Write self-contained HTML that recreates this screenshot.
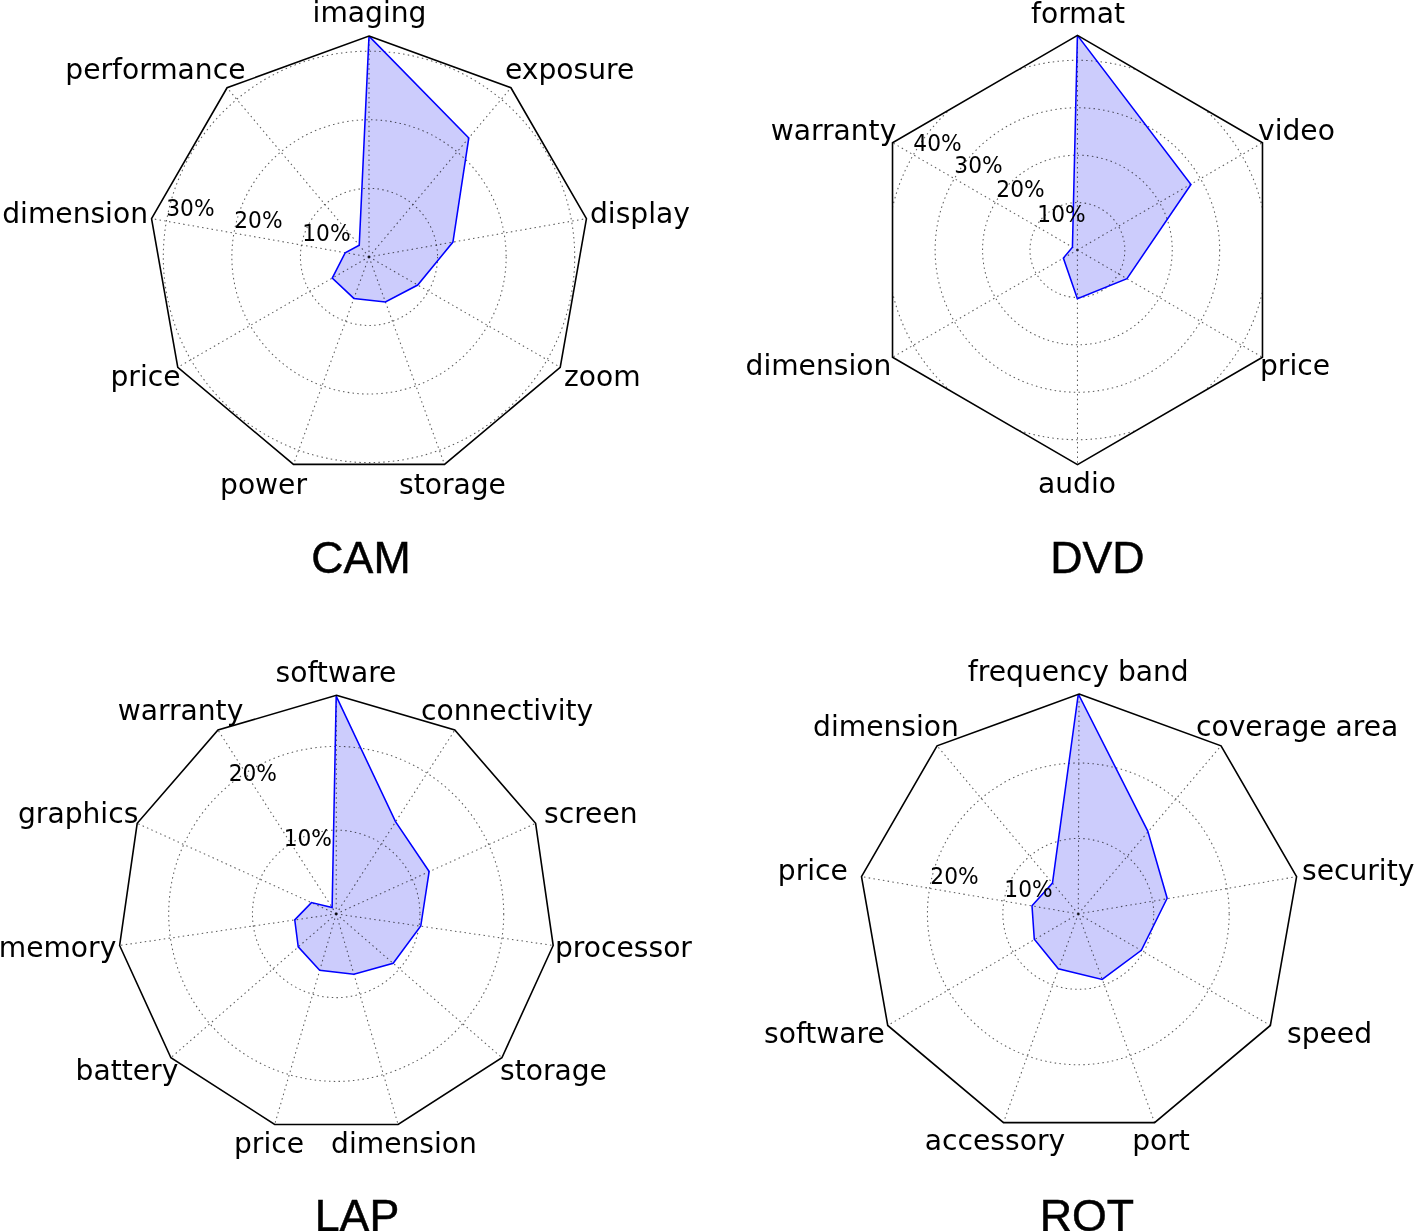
<!DOCTYPE html>
<html lang="en"><head><meta charset="utf-8"><title>Radar charts</title>
<style>html,body{margin:0;padding:0;background:#fff}svg{display:block}</style></head>
<body>
<svg width="1415" height="1231" viewBox="0 0 1415 1231">
<rect width="100%" height="100%" fill="#fff"/>
<clipPath id="cp0"><polygon points="369.00,36.10 510.93,87.76 586.45,218.56 560.22,367.30 444.52,464.38 293.48,464.38 177.78,367.30 151.55,218.56 227.07,87.76"/></clipPath>
<g clip-path="url(#cp0)">
<polygon points="369.00,36.10 468.79,137.97 452.92,242.10 417.70,285.02 385.40,301.96 353.90,298.40 332.25,278.12 345.22,252.71 359.24,245.27" fill="#ccccfc" stroke="none"/>
<g fill="none" stroke="#000" stroke-opacity="0.64" stroke-width="1.05" stroke-dasharray="1.5 3.3">
<circle cx="369.00" cy="256.90" r="68.57"/>
<circle cx="369.00" cy="256.90" r="137.14"/>
<circle cx="369.00" cy="256.90" r="205.71"/>
<line x1="369.00" y1="256.90" x2="369.00" y2="36.10"/>
<line x1="369.00" y1="256.90" x2="510.93" y2="87.76"/>
<line x1="369.00" y1="256.90" x2="586.45" y2="218.56"/>
<line x1="369.00" y1="256.90" x2="560.22" y2="367.30"/>
<line x1="369.00" y1="256.90" x2="444.52" y2="464.38"/>
<line x1="369.00" y1="256.90" x2="293.48" y2="464.38"/>
<line x1="369.00" y1="256.90" x2="177.78" y2="367.30"/>
<line x1="369.00" y1="256.90" x2="151.55" y2="218.56"/>
<line x1="369.00" y1="256.90" x2="227.07" y2="87.76"/>
</g>
<polygon points="369.00,36.10 468.79,137.97 452.92,242.10 417.70,285.02 385.40,301.96 353.90,298.40 332.25,278.12 345.22,252.71 359.24,245.27" fill="none" stroke="#0000ff" stroke-width="1.55" stroke-linejoin="miter"/>
</g>
<polygon points="369.00,36.10 510.93,87.76 586.45,218.56 560.22,367.30 444.52,464.38 293.48,464.38 177.78,367.30 151.55,218.56 227.07,87.76" fill="none" stroke="#000" stroke-width="1.6" stroke-linejoin="miter"/>
<g font-family="'DejaVu Sans', 'Liberation Sans', sans-serif" font-size="28.15" fill="#000">
<text x="369.5" y="21.7" text-anchor="middle">imaging</text>
<text x="505.0" y="78.8" text-anchor="start">exposure</text>
<text x="590.0" y="222.8" text-anchor="start">display</text>
<text x="564.0" y="386.3" text-anchor="start">zoom</text>
<text x="399.0" y="493.8" text-anchor="start">storage</text>
<text x="307.0" y="493.8" text-anchor="end">power</text>
<text x="180.5" y="386.3" text-anchor="end">price</text>
<text x="148.0" y="222.8" text-anchor="end">dimension</text>
<text x="245.5" y="78.8" text-anchor="end">performance</text>
</g>
<g font-family="'DejaVu Sans', 'Liberation Sans', sans-serif" font-size="23.0" fill="#000" text-anchor="middle">
<text transform="translate(326.4 240.9) scale(0.945 1)">10%</text>
<text transform="translate(258.4 227.9) scale(0.945 1)">20%</text>
<text transform="translate(190.4 215.9) scale(0.945 1)">30%</text>
</g>
<text x="361" y="572.5" text-anchor="middle" font-family="'Liberation Sans', Arial, sans-serif" font-size="44.7" fill="#000" stroke="#000" stroke-width="0.5">CAM</text>
<clipPath id="cp1"><polygon points="1077.50,35.40 1262.48,142.70 1262.48,357.30 1077.50,464.60 892.52,357.30 892.52,142.70"/></clipPath>
<g clip-path="url(#cp1)">
<polygon points="1077.40,35.40 1190.97,184.43 1126.96,278.61 1077.40,298.64 1063.36,258.11 1072.44,247.14" fill="#ccccfc" stroke="none"/>
<g fill="none" stroke="#000" stroke-opacity="0.64" stroke-width="1.05" stroke-dasharray="1.5 3.3">
<circle cx="1077.40" cy="250.00" r="47.43"/>
<circle cx="1077.40" cy="250.00" r="94.85"/>
<circle cx="1077.40" cy="250.00" r="142.28"/>
<circle cx="1077.40" cy="250.00" r="189.70"/>
<line x1="1077.40" y1="250.00" x2="1077.50" y2="35.40"/>
<line x1="1077.40" y1="250.00" x2="1262.48" y2="142.70"/>
<line x1="1077.40" y1="250.00" x2="1262.48" y2="357.30"/>
<line x1="1077.40" y1="250.00" x2="1077.50" y2="464.60"/>
<line x1="1077.40" y1="250.00" x2="892.52" y2="357.30"/>
<line x1="1077.40" y1="250.00" x2="892.52" y2="142.70"/>
</g>
<polygon points="1077.40,35.40 1190.97,184.43 1126.96,278.61 1077.40,298.64 1063.36,258.11 1072.44,247.14" fill="none" stroke="#0000ff" stroke-width="1.55" stroke-linejoin="miter"/>
</g>
<polygon points="1077.50,35.40 1262.48,142.70 1262.48,357.30 1077.50,464.60 892.52,357.30 892.52,142.70" fill="none" stroke="#000" stroke-width="1.6" stroke-linejoin="miter"/>
<g font-family="'DejaVu Sans', 'Liberation Sans', sans-serif" font-size="28.15" fill="#000">
<text x="1078.0" y="22.9" text-anchor="middle">format</text>
<text x="1258.0" y="140.4" text-anchor="start">video</text>
<text x="1260.0" y="375.4" text-anchor="start">price</text>
<text x="1077.0" y="493.4" text-anchor="middle">audio</text>
<text x="891.3" y="375.4" text-anchor="end">dimension</text>
<text x="896.3" y="140.4" text-anchor="end">warranty</text>
</g>
<g font-family="'DejaVu Sans', 'Liberation Sans', sans-serif" font-size="23.0" fill="#000" text-anchor="middle">
<text transform="translate(1061.5 222.3) scale(0.945 1)">10%</text>
<text transform="translate(1020.5 197.3) scale(0.945 1)">20%</text>
<text transform="translate(978.5 173.3) scale(0.945 1)">30%</text>
<text transform="translate(937.5 151.3) scale(0.945 1)">40%</text>
</g>
<text x="1097.4" y="572.5" text-anchor="middle" font-family="'Liberation Sans', Arial, sans-serif" font-size="44.7" fill="#000" stroke="#000" stroke-width="0.5">DVD</text>
<clipPath id="cp2"><polygon points="336.40,695.30 454.80,730.07 535.61,823.32 553.17,945.47 501.91,1057.71 398.10,1124.43 274.70,1124.43 170.89,1057.71 119.63,945.47 137.19,823.32 218.00,730.07"/></clipPath>
<g clip-path="url(#cp2)">
<polygon points="336.20,696.14 395.52,821.60 429.15,871.45 420.76,926.06 393.17,963.26 353.90,974.17 319.68,970.15 298.22,946.81 294.75,919.86 311.44,902.59 332.12,907.56" fill="#ccccfc" stroke="none"/>
<g fill="none" stroke="#000" stroke-opacity="0.64" stroke-width="1.05" stroke-dasharray="1.5 3.3">
<circle cx="336.20" cy="913.90" r="83.75"/>
<circle cx="336.20" cy="913.90" r="167.51"/>
<line x1="336.20" y1="913.90" x2="336.40" y2="695.30"/>
<line x1="336.20" y1="913.90" x2="454.80" y2="730.07"/>
<line x1="336.20" y1="913.90" x2="535.61" y2="823.32"/>
<line x1="336.20" y1="913.90" x2="553.17" y2="945.47"/>
<line x1="336.20" y1="913.90" x2="501.91" y2="1057.71"/>
<line x1="336.20" y1="913.90" x2="398.10" y2="1124.43"/>
<line x1="336.20" y1="913.90" x2="274.70" y2="1124.43"/>
<line x1="336.20" y1="913.90" x2="170.89" y2="1057.71"/>
<line x1="336.20" y1="913.90" x2="119.63" y2="945.47"/>
<line x1="336.20" y1="913.90" x2="137.19" y2="823.32"/>
<line x1="336.20" y1="913.90" x2="218.00" y2="730.07"/>
</g>
<polygon points="336.20,696.14 395.52,821.60 429.15,871.45 420.76,926.06 393.17,963.26 353.90,974.17 319.68,970.15 298.22,946.81 294.75,919.86 311.44,902.59 332.12,907.56" fill="none" stroke="#0000ff" stroke-width="1.55" stroke-linejoin="miter"/>
</g>
<polygon points="336.40,695.30 454.80,730.07 535.61,823.32 553.17,945.47 501.91,1057.71 398.10,1124.43 274.70,1124.43 170.89,1057.71 119.63,945.47 137.19,823.32 218.00,730.07" fill="none" stroke="#000" stroke-width="1.6" stroke-linejoin="miter"/>
<g font-family="'DejaVu Sans', 'Liberation Sans', sans-serif" font-size="28.15" fill="#000">
<text x="336.0" y="681.8" text-anchor="middle">software</text>
<text x="421.0" y="719.5" text-anchor="start">connectivity</text>
<text x="544.0" y="822.5" text-anchor="start">screen</text>
<text x="555.0" y="956.5" text-anchor="start">processor</text>
<text x="500.0" y="1079.5" text-anchor="start">storage</text>
<text x="404.0" y="1152.5" text-anchor="middle">dimension</text>
<text x="269.0" y="1152.5" text-anchor="middle">price</text>
<text x="178.3" y="1079.5" text-anchor="end">battery</text>
<text x="116.3" y="956.5" text-anchor="end">memory</text>
<text x="138.3" y="822.5" text-anchor="end">graphics</text>
<text x="243.3" y="719.5" text-anchor="end">warranty</text>
</g>
<g font-family="'DejaVu Sans', 'Liberation Sans', sans-serif" font-size="23.0" fill="#000" text-anchor="middle">
<text transform="translate(307.8 846.1) scale(0.945 1)">10%</text>
<text transform="translate(252.8 781.1) scale(0.945 1)">20%</text>
</g>
<text x="357" y="1231" text-anchor="middle" font-family="'Liberation Sans', Arial, sans-serif" font-size="44.7" fill="#000" stroke="#000" stroke-width="0.5">LAP</text>
<clipPath id="cp3"><polygon points="1079.05,694.10 1221.04,745.78 1296.59,876.64 1270.36,1025.45 1154.60,1122.58 1003.50,1122.58 887.74,1025.45 861.51,876.64 937.06,745.78"/></clipPath>
<g clip-path="url(#cp3)">
<polygon points="1078.30,694.00 1147.76,831.13 1167.16,898.23 1141.34,950.30 1102.16,979.45 1058.33,968.77 1034.30,939.30 1032.00,905.74 1052.47,883.11" fill="#ccccfc" stroke="none"/>
<g fill="none" stroke="#000" stroke-opacity="0.64" stroke-width="1.05" stroke-dasharray="1.5 3.3">
<circle cx="1078.30" cy="913.90" r="75.44"/>
<circle cx="1078.30" cy="913.90" r="150.87"/>
<line x1="1078.30" y1="913.90" x2="1079.05" y2="694.10"/>
<line x1="1078.30" y1="913.90" x2="1221.04" y2="745.78"/>
<line x1="1078.30" y1="913.90" x2="1296.59" y2="876.64"/>
<line x1="1078.30" y1="913.90" x2="1270.36" y2="1025.45"/>
<line x1="1078.30" y1="913.90" x2="1154.60" y2="1122.58"/>
<line x1="1078.30" y1="913.90" x2="1003.50" y2="1122.58"/>
<line x1="1078.30" y1="913.90" x2="887.74" y2="1025.45"/>
<line x1="1078.30" y1="913.90" x2="861.51" y2="876.64"/>
<line x1="1078.30" y1="913.90" x2="937.06" y2="745.78"/>
</g>
<polygon points="1078.30,694.00 1147.76,831.13 1167.16,898.23 1141.34,950.30 1102.16,979.45 1058.33,968.77 1034.30,939.30 1032.00,905.74 1052.47,883.11" fill="none" stroke="#0000ff" stroke-width="1.55" stroke-linejoin="miter"/>
</g>
<polygon points="1079.05,694.10 1221.04,745.78 1296.59,876.64 1270.36,1025.45 1154.60,1122.58 1003.50,1122.58 887.74,1025.45 861.51,876.64 937.06,745.78" fill="none" stroke="#000" stroke-width="1.6" stroke-linejoin="miter"/>
<g font-family="'DejaVu Sans', 'Liberation Sans', sans-serif" font-size="28.15" fill="#000">
<text x="1078.3" y="680.6" text-anchor="middle">frequency band</text>
<text x="1196.0" y="736.4" text-anchor="start">coverage area</text>
<text x="1302.0" y="880.4" text-anchor="start">security</text>
<text x="1287.0" y="1043.4" text-anchor="start">speed</text>
<text x="1161.0" y="1150.4" text-anchor="middle">port</text>
<text x="995.0" y="1150.4" text-anchor="middle">accessory</text>
<text x="884.9" y="1043.4" text-anchor="end">software</text>
<text x="847.9" y="880.4" text-anchor="end">price</text>
<text x="958.9" y="736.4" text-anchor="end">dimension</text>
</g>
<g font-family="'DejaVu Sans', 'Liberation Sans', sans-serif" font-size="23.0" fill="#000" text-anchor="middle">
<text transform="translate(1028.5 897.0) scale(0.945 1)">10%</text>
<text transform="translate(954.5 884.0) scale(0.945 1)">20%</text>
</g>
<text x="1086.8" y="1231" text-anchor="middle" font-family="'Liberation Sans', Arial, sans-serif" font-size="44.7" fill="#000" stroke="#000" stroke-width="0.5">ROT</text>
</svg>
</body></html>
